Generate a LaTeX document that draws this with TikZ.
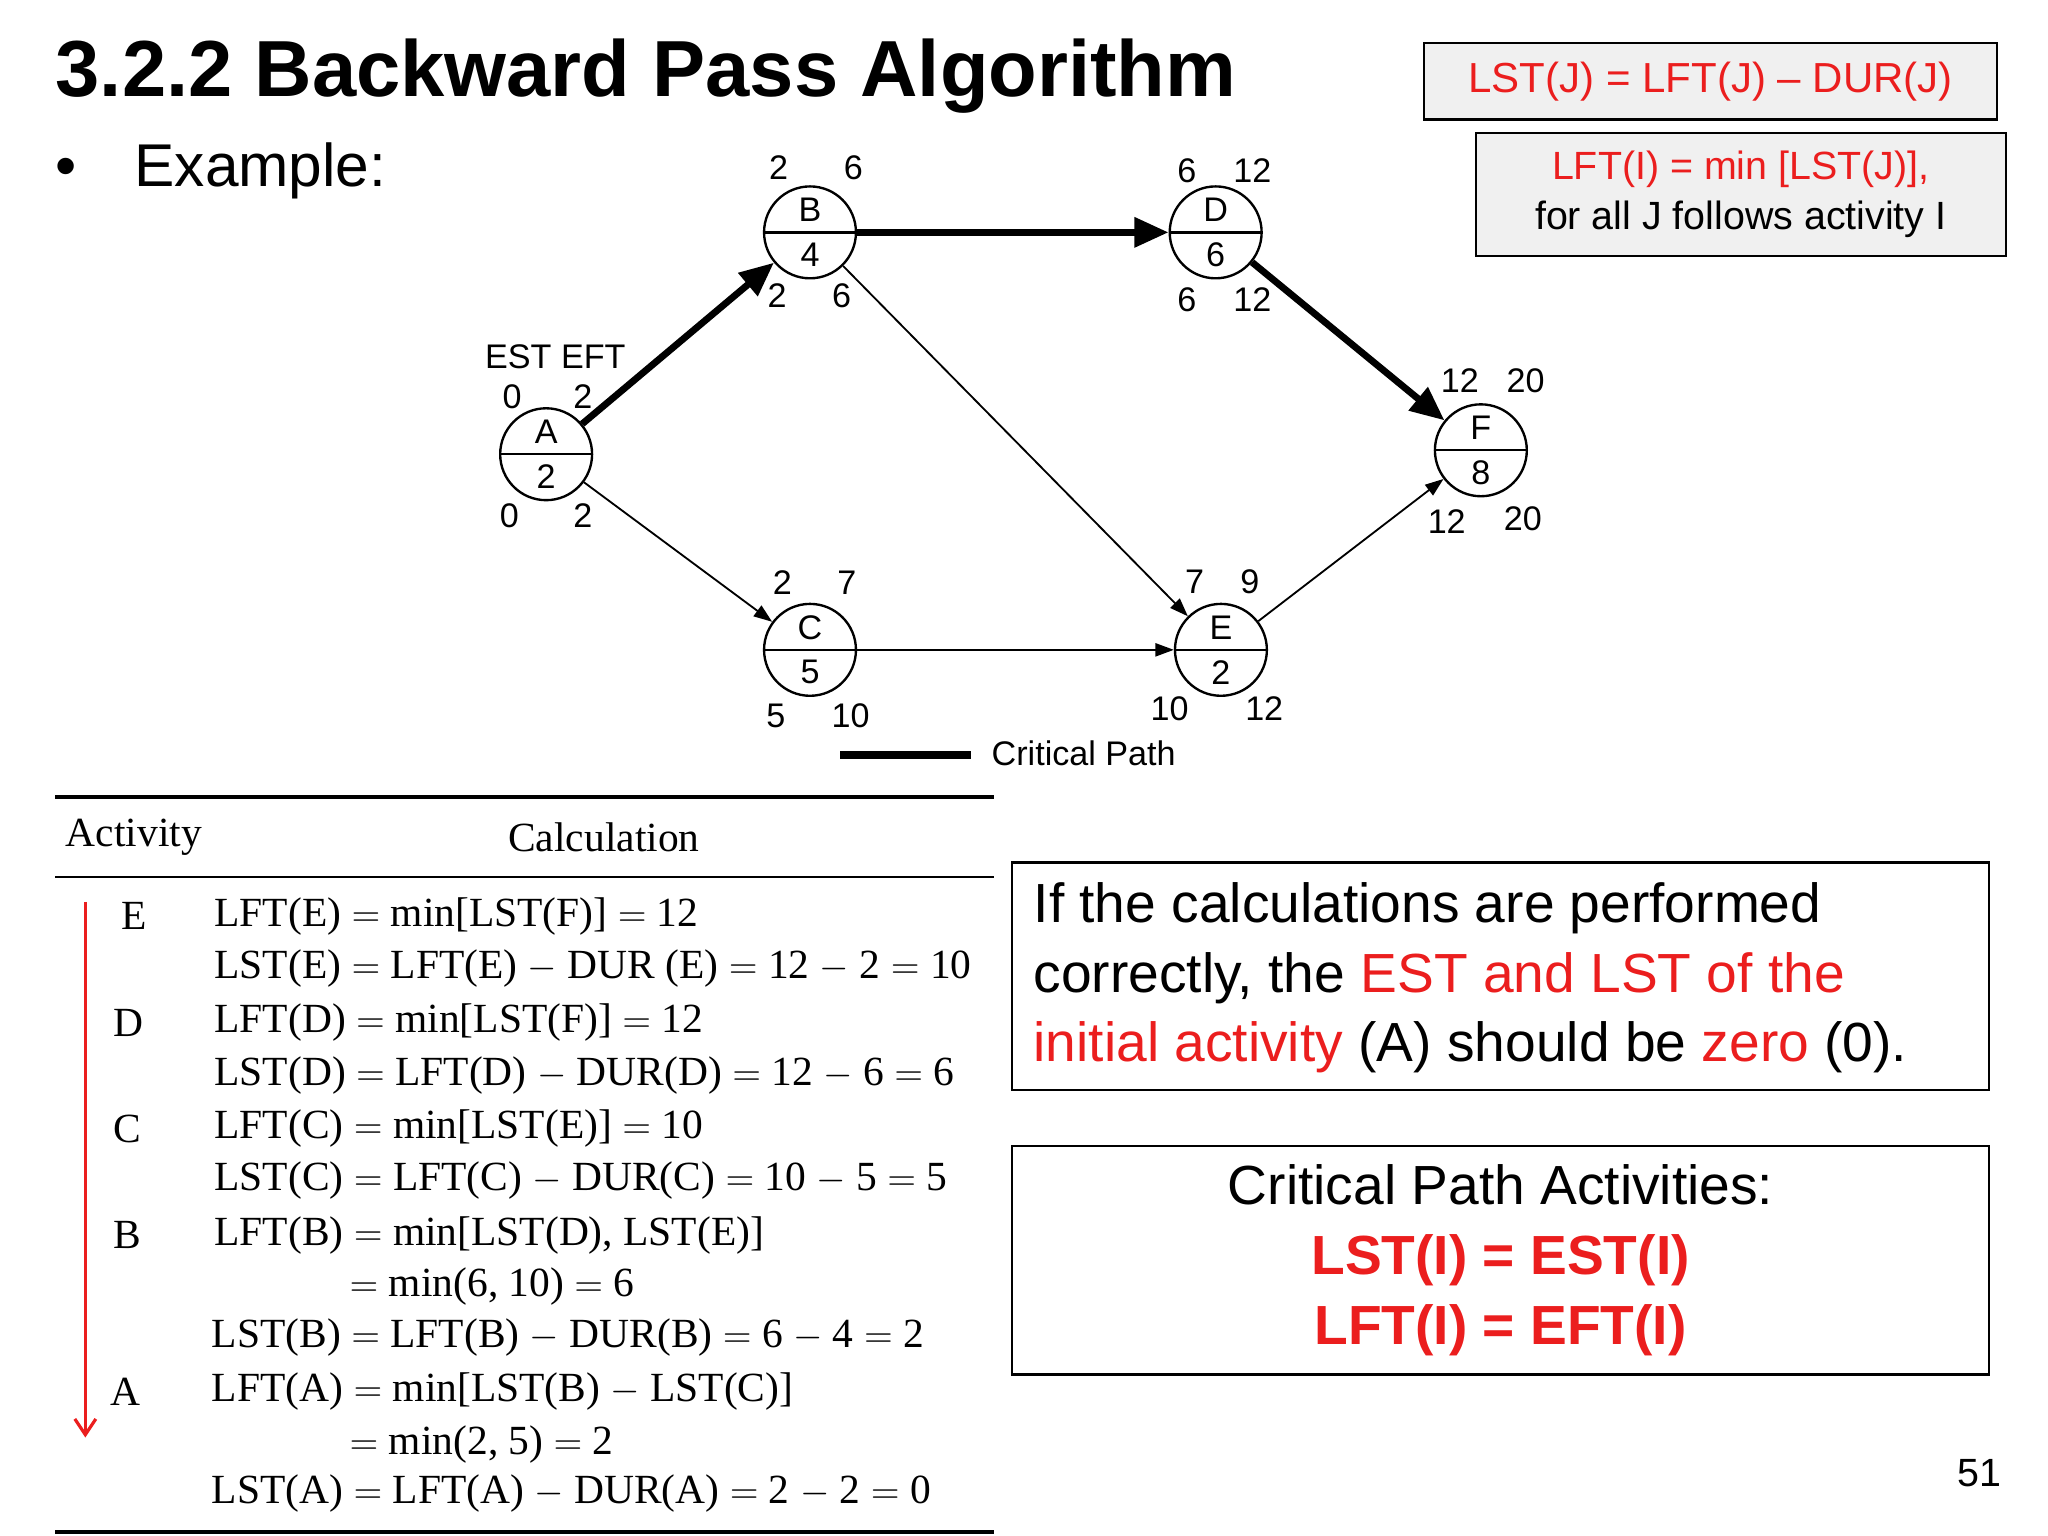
\documentclass[tikz,border=0pt]{standalone}
\usepackage{fontspec}
\setmainfont{Liberation Serif}
\setsansfont{Liberation Sans}
\usetikzlibrary{arrows.meta}
\definecolor{rd}{RGB}{235,30,30}
\begin{document}
\begin{tikzpicture}[x=0.5pt,y=-0.5pt,
  act/.style={circle,draw,line width=0.9pt,minimum size=35pt,inner sep=0pt},
  nl/.style={font=\sffamily\fontsize{13}{15}\selectfont,inner sep=0pt},
  num/.style={font=\sffamily\fontsize{13}{15}\selectfont,inner sep=0pt},
  thick arr/.style={line width=2.6pt,-{Triangle[length=13pt,width=11pt]}},
  thin arr/.style={line width=0.7pt,-{Triangle[length=7pt,width=5pt]}},
  calc/.style={font=\rmfamily\fontsize{15.8}{18}\selectfont,anchor=west,inner sep=0pt},
  fbox/.style={draw,line width=0.8pt}]
\useasboundingbox (0,0) rectangle (1560,1170);
% title
\node[anchor=west,inner sep=0pt,font=\sffamily\bfseries\fontsize{30.3}{34}\selectfont] (title) at (42,58) {3.2.2 Backward Pass Algorithm};
\node[anchor=west,inner sep=0pt,font=\sffamily\fontsize{23}{26}\selectfont] (ex) at (42,130) {•\hspace{22pt}Example:};
% formula boxes
\node[fbox,fill=gray!12,minimum width=218pt,minimum height=29pt,font=\sffamily\fontsize{16}{19}\selectfont,text=rd] (f1) at (1303,62) {LST(J) = LFT(J) – DUR(J)};
\node[fbox,fill=gray!12,minimum width=202pt,minimum height=47pt,align=center,font=\sffamily\fontsize{15}{19}\selectfont] (f2) at (1326,148) {\textcolor{rd}{LFT(I) = min [LST(J)],}\\for all J follows activity I};
% activities
\foreach \n/\x/\y/\l/\d in {A/416/346/A/2,B/617/177/B/4,D/926/177/D/6,F/1128/343/F/8,C/617/495/C/5,E/930/495/E/2}{
  \node[act] (\n) at (\x,\y) {};
  \draw[line width=0.9pt] (\n.west) -- (\n.east);
  \node[nl] (\n l) at (\x,\y-17) {\l};
  \node[nl] (\n d) at (\x,\y+17) {\d};
}
% edges
\draw[thick arr] (A) -- (B);
\draw[thick arr] (B) -- (D);
\draw[thick arr] (D) -- (F);
\draw[thin arr] (A) -- (C);
\draw[thin arr] (B) -- (E);
\draw[thin arr] (C) -- (E);
\draw[thin arr] (E) -- (F);
% numbers
\node[num] (esteft) at (423,272) {EST EFT};
\foreach \t/\x/\y [count=\i] in {0/390/302,2/444/302,0/388/393,2/444/393,
 2/593/128,6/650/128,2/592/225,6/641/225,
 6/904/130,12/954/130,6/904/228,12/954/228,
 12/1112/290,20/1162/290,12/1102/397,20/1160/395,
 2/596/444,7/645/444,5/591/545,10/648/545,
 7/910/443,9/952/443,10/891/540,12/963/540}
 \node[num] (n\i) at (\x,\y) {\t};
% legend
\coordinate (lg1) at (640,575); \coordinate (lg2) at (740,575);
\draw[line width=3pt] (lg1) -- (lg2);
\node[num,anchor=west] (lgt) at (755,574) {Critical Path};
% table
\draw[line width=1.6pt] (42,607) -- (757,607);
\draw[line width=0.8pt] (42,668) -- (757,668);
\draw[line width=1.6pt] (42,1167) -- (757,1167);
\node[calc,anchor=center] (h1) at (102,638) {Activity};
\node[calc,anchor=center] (h2) at (460,638) {Calculation};
\coordinate (ra) at (65,687); \coordinate (rb) at (65,1095);
\draw[rd,line width=1.2pt,-{Straight Barb[length=6pt,width=8pt]}] (ra) -- (rb);
\node[calc] (aE) at (92,698) {E};
\node[calc] (aD) at (86,779) {D};
\node[calc] (aC) at (86,860) {C};
\node[calc] (aB) at (86,941) {B};
\node[calc] (aA) at (84,1060) {A};
\node[calc] (c1) at (163,698) {LFT(E) $=$ min[LST(F)] $=$ 12};
\node[calc] (c2) at (163,738) {LST(E) $=$ LFT(E) $-$ DUR (E) $=$ 12 $-$ 2 $=$ 10};
\node[calc] (c3) at (163,779) {LFT(D) $=$ min[LST(F)] $=$ 12};
\node[calc] (c4) at (163,819) {LST(D) $=$ LFT(D) $-$ DUR(D) $=$ 12 $-$ 6 $=$ 6};
\node[calc] (c5) at (163,860) {LFT(C) $=$ min[LST(E)] $=$ 10};
\node[calc] (c6) at (163,899) {LST(C) $=$ LFT(C) $-$ DUR(C) $=$ 10 $-$ 5 $=$ 5};
\node[calc] (c7) at (163,941) {LFT(B) $=$ min[LST(D), LST(E)]};
\node[calc] (c8) at (266,980) {$=$ min(6, 10) $=$ 6};
\node[calc] (c9) at (161,1019) {LST(B) $=$ LFT(B) $-$ DUR(B) $=$ 6 $-$ 4 $=$ 2};
\node[calc] (c10) at (161,1060) {LFT(A) $=$ min[LST(B) $-$ LST(C)]};
\node[calc] (c11) at (266,1100) {$=$ min(2, 5) $=$ 2};
\node[calc] (c12) at (161,1138) {LST(A) $=$ LFT(A) $-$ DUR(A) $=$ 2 $-$ 2 $=$ 0};
% text boxes
\draw[line width=0.8pt] (771,657) rectangle (1515,830);
\node[anchor=north west,inner sep=0pt,align=left,font=\sffamily\fontsize{21}{26.5}\selectfont] (para) at (787,672)
 {If the calculations are performed\\correctly, the \textcolor{rd}{EST and LST of the}\\\textcolor{rd}{initial activity} (A) should be \textcolor{rd}{zero} (0).};
\draw[line width=0.8pt] (771,873) rectangle (1515,1047);
\node[align=center,inner sep=0pt,font=\sffamily\fontsize{21}{26.5}\selectfont] (cp) at (1143,960)
 {Critical Path Activities:\\\textcolor{rd}{\bfseries LST(I) = EST(I)}\\\textcolor{rd}{\bfseries LFT(I) = EFT(I)}};
\node[inner sep=0pt,font=\sffamily\fontsize{15}{18}\selectfont] (pg) at (1508,1122) {51};
\end{tikzpicture}
\end{document}
